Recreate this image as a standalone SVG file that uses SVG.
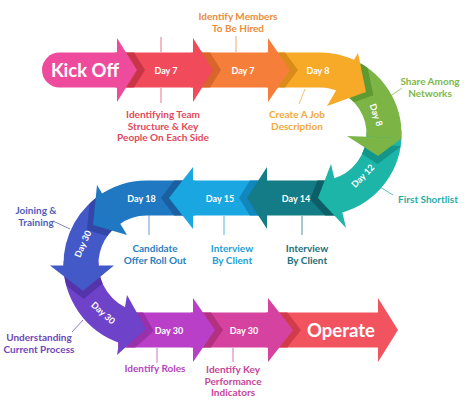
<svg xmlns="http://www.w3.org/2000/svg" width="474" height="410" viewBox="0 0 474 410">
<style>
.band{fill:none;stroke-width:35;stroke-linecap:butt}
.day{font-family:Lato,"Open Sans",sans-serif;font-weight:700;font-size:9px;fill:#fff;text-anchor:middle}
.big{font-family:Lato,"Open Sans",sans-serif;font-weight:700;font-size:18.5px;fill:#fff;text-anchor:middle}
.lbl{font-family:Lato,"Open Sans",sans-serif;font-weight:700;font-size:10px;text-anchor:middle}
.ld{stroke-width:1;fill:none;opacity:.75}
</style>
<defs>
<mask id="mGreen"><path d="M 341.9 73.9 A 64 64 0 0 1 383.9 137.35" fill="none" stroke="#fff" stroke-width="35"/></mask>
<mask id="mTeal"><path d="M 383.96 131.8 A 64 64 0 0 1 336.6 195.8" fill="none" stroke="#fff" stroke-width="35"/></mask>
<mask id="mIndigo"><path d="M 114 206.8 A 66 66 0 0 0 81.02 265.73" fill="none" stroke="#fff" stroke-width="35"/></mask>
<mask id="mPurple"><path d="M 81.04 261.7 A 66 66 0 0 0 126.6 326.8" fill="none" stroke="#fff" stroke-width="35"/></mask>
<clipPath id="cDarkTeal"><rect x="265" y="180.5" width="77" height="35"/></clipPath>
<clipPath id="cMagenta"><rect x="118" y="312.5" width="77" height="35"/></clipPath>
</defs>

<!-- segments drawn from last to first so earlier heads sit on top -->
<g id="operate">
<path d="M 266 312.5 H 380 V 347.5 H 266 Z" fill="#F2545F"/>
<polygon points="378,298 398,330 378,362" fill="#F2545F"/>
<polygon points="268,312.5 287.3,312.5 301,330 287.3,347.5 268,347.5" fill="#D13C4A"/>
<text class="big" x="341" y="337">Operate</text>
</g>

<g id="day30-kpi">
<path d="M 191 312.5 H 270 V 347.5 H 191 Z" fill="#D6429F"/>
<polygon points="268,298 293,330 268,362" fill="#D6429F"/>
<polygon points="193,312.5 211,312.5 223,330 211,347.5 193,347.5" fill="#B3317F"/>
<text class="day" x="244" y="333.5">Day 30</text>
<text class="lbl" fill="#C9459A"><tspan x="233" y="373">Identify Key</tspan><tspan x="233" y="384.5">Performance</tspan><tspan x="233" y="396">Indicators</tspan></text>
</g>

<g id="day30-roles">
<path class="band" d="M 118 330 H 195" stroke="#B93FC8"/>
<polygon points="193,298 215,330 193,362" fill="#B93FC8"/>
<polygon points="134.7,297.1 124.7,357.1 153.7,331.1" fill="#9A30AA" clip-path="url(#cMagenta)"/>
<text class="day" x="169" y="333.5">Day 30</text>
<text class="lbl" fill="#B545BD" x="155" y="372">Identify Roles</text>
</g>

<g id="day30-process">
<path class="band" d="M 81.04 261.7 A 66 66 0 0 0 126.6 326.8" stroke="#6E43C9"/>
<polygon points="127,295 117,355 146,329" fill="#6E43C9"/>
<polygon points="50.7,273.5 114.7,273.5 83.7,299" fill="#5533AB" mask="url(#mPurple)"/>
<text class="day" transform="translate(103,313) rotate(42)" x="0" y="3">Day 30</text>
<text class="lbl" fill="#6F47B8"><tspan x="39" y="341">Understanding</tspan><tspan x="39" y="352.5">Current Process</tspan></text>
</g>

<g id="day30-training">
<path class="band" d="M 114 206.8 A 66 66 0 0 0 81.02 265.73" stroke="#4259C7"/>
<polygon points="50,265.5 114,265.5 83,291" fill="#4259C7"/>
<polygon points="90.9,190.1 120.9,240.1 86.9,230.1" fill="#3347A8" mask="url(#mIndigo)"/>
<text class="day" transform="translate(83,244) rotate(-66)" x="0" y="3">Day 30</text>
<text class="lbl" fill="#4E5DB8"><tspan x="36" y="214">Joining &amp;</tspan><tspan x="36" y="225.5">Training</tspan></text>
</g>

<g id="day18">
<path class="band" d="M 195 198 H 147 A 66 66 0 0 0 107.3 211.3" stroke="#1F78C1"/>
<polygon points="97,185 127,235 93,225" fill="#1F78C1"/>
<polygon points="193,180.5 174.1,180.5 161,198 174.1,215.5 193,215.5" fill="#1A5FA0"/>
<text class="day" x="141.5" y="201.5">Day 18</text>
<text class="lbl" fill="#2B80C0"><tspan x="155" y="252">Candidate</tspan><tspan x="155" y="263.5">Offer Roll Out</tspan></text>
</g>

<g id="day15">
<path d="M 191 180.5 H 267 V 215.5 H 191 Z" fill="#1AA7E1"/>
<polygon points="193,167 169,198 193,229" fill="#1AA7E1"/>
<polygon points="267,180.5 249.9,180.5 239,198 249.9,215.5 267,215.5" fill="#1287BD"/>
<text class="day" x="220" y="201.5">Day 15</text>
<text class="lbl" fill="#1B9ED8"><tspan x="232" y="252">Interview</tspan><tspan x="232" y="263.5">By Client</tspan></text>
</g>

<g id="day14">
<path d="M 265 180.5 H 342 V 215.5 H 265 Z" fill="#137C86"/>
<polygon points="267,167 247,198 267,229" fill="#137C86"/>
<polygon points="323.1,165.4 338.1,229.4 310.1,199.4" fill="#0D5F67" clip-path="url(#cDarkTeal)"/>
<text class="day" x="296" y="201.5">Day 14</text>
<text class="lbl" fill="#1C6E7A"><tspan x="307" y="252">Interview</tspan><tspan x="307" y="263.5">By Client</tspan></text>
</g>

<g id="day12">
<path class="band" d="M 383.96 131.8 A 64 64 0 0 1 336.6 195.8" stroke="#1DB5A8"/>
<polygon points="331,164 346,228 318,198" fill="#1DB5A8"/>
<polygon points="346.6,144 401.6,146 377.6,164" fill="#12958B" mask="url(#mTeal)"/>
<text class="day" transform="translate(363,176) rotate(-46)" x="0" y="3">Day 12</text>
<text class="lbl" fill="#1FADA5" x="428" y="203">First Shortlist</text>
</g>

<g id="day8-share">
<path class="band" d="M 341.9 73.9 A 64 64 0 0 1 383.9 137.35" stroke="#7CB546"/>
<polygon points="347,136 402,138 378,156" fill="#7CB546"/>
<polygon points="365.3,56.3 373.3,95.3 334.3,109.3" fill="#5E9A32" mask="url(#mGreen)"/>
<text class="day" transform="translate(376,115) rotate(71)" x="0" y="3">Day 8</text>
<text class="lbl" fill="#7DB84A"><tspan x="430" y="85">Share Among</tspan><tspan x="430" y="96.5">Networks</tspan></text>
</g>

<g id="day8-job">
<path class="band" d="M 266 70 H 320 A 64 64 0 0 1 348.06 76.48" stroke="#F7A928"/>
<polygon points="358,53 366,92 327,106" fill="#F7A928"/>
<polygon points="268,52.5 285,52.5 298,70 285,87.5 268,87.5" fill="#D98C18"/>
<text class="day" x="318" y="73.5">Day 8</text>
<text class="lbl" fill="#F2A93B"><tspan x="297" y="118">Create A Job</tspan><tspan x="297" y="129.5">Description</tspan></text>
</g>

<g id="day7-hire">
<path d="M 191 52.5 H 270 V 87.5 H 191 Z" fill="#F57F3A"/>
<polygon points="268,38 290,70 268,102" fill="#F57F3A"/>
<polygon points="193,52.5 210.1,52.5 221,70 210.1,87.5 193,87.5" fill="#D8662B"/>
<text class="day" x="243" y="73.5">Day 7</text>
<text class="lbl" fill="#EC8B3A"><tspan x="238" y="20">Identify Members</tspan><tspan x="238" y="31.5">To Be Hired</tspan></text>
</g>

<g id="day7-team">
<path d="M 115 52.5 H 195 V 87.5 H 115 Z" fill="#F14A5B"/>
<polygon points="193,38 213,70 193,102" fill="#F14A5B"/>
<polygon points="117,52.5 134.1,52.5 145,70 134.1,87.5 117,87.5" fill="#C93447"/>
<text class="day" x="166" y="73.5">Day 7</text>
<text class="lbl" fill="#E04A5C"><tspan x="163" y="118">Identifying Team</tspan><tspan x="163" y="129.5">Structure &amp; Key</tspan><tspan x="163" y="141">People On Each Side</tspan></text>
</g>

<g id="kickoff">
<path d="M 120 52.5 H 59.5 A 17.5 17.5 0 0 0 59.5 87.5 H 120 Z" fill="#EE4B9C"/>
<polygon points="117,38 137,70 117,102" fill="#EE4B9C"/>
<text class="big" x="85" y="77">Kick Off</text>
</g>

<g id="connectors">
<line class="ld" x1="161" y1="37" x2="161" y2="52" stroke="#E04A5C"/>
<line class="ld" x1="161" y1="88" x2="161" y2="103" stroke="#E04A5C"/>
<line class="ld" x1="236" y1="36" x2="236" y2="52" stroke="#EC8B3A"/>
<line class="ld" x1="305" y1="89" x2="299" y2="104" stroke="#F2A93B"/>
<line class="ld" x1="389" y1="97" x2="402" y2="88" stroke="#7DB84A"/>
<line class="ld" x1="380" y1="187" x2="393" y2="195" stroke="#1FADA5"/>
<line class="ld" x1="302" y1="216" x2="302" y2="235" stroke="#1C6E7A"/>
<line class="ld" x1="224" y1="216" x2="224" y2="235" stroke="#1B9ED8"/>
<line class="ld" x1="149" y1="214" x2="149" y2="235" stroke="#2B80C0"/>
<line class="ld" x1="53" y1="221" x2="70" y2="229" stroke="#4E5DB8"/>
<line class="ld" x1="72" y1="332" x2="83" y2="320" stroke="#6F47B8"/>
<line class="ld" x1="157" y1="348" x2="157" y2="363" stroke="#B545BD"/>
<line class="ld" x1="233" y1="348" x2="233" y2="362" stroke="#C9459A"/>
</g>
</svg>
